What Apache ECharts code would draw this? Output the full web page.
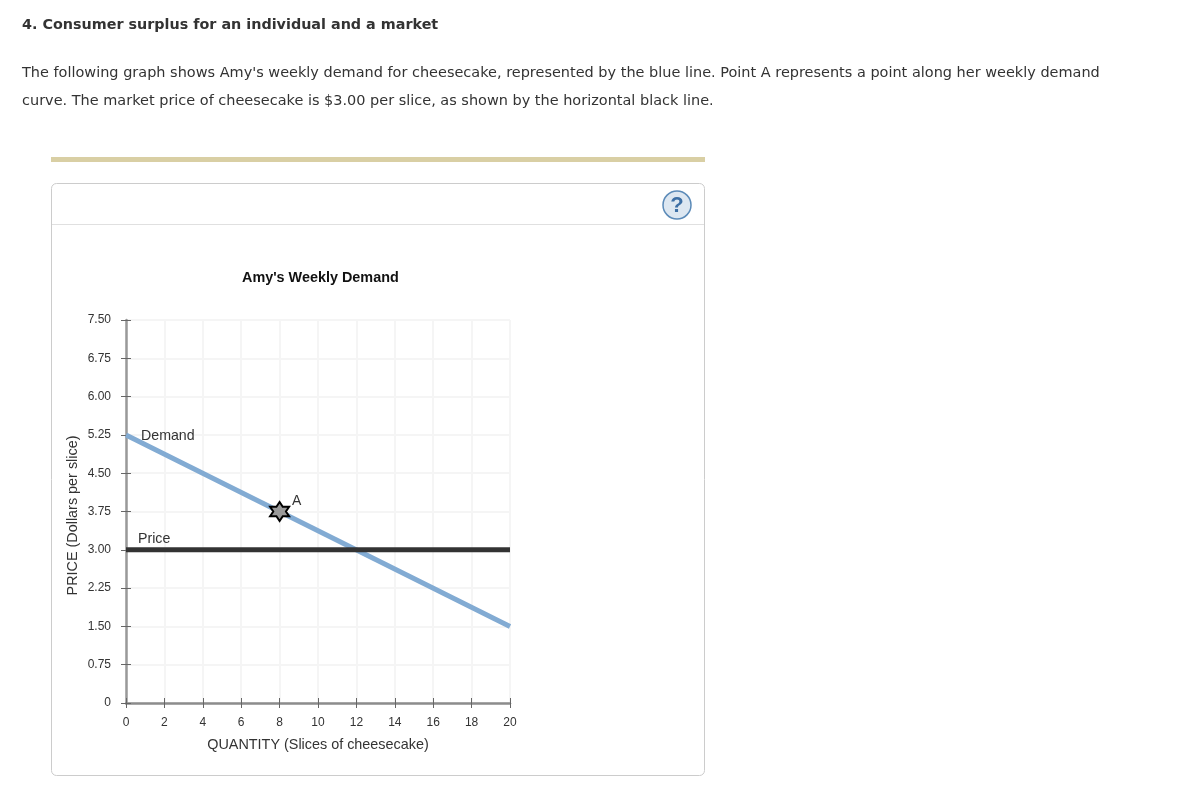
<!DOCTYPE html>
<html>
<head>
<meta charset="utf-8">
<style>html,body{margin:0;padding:0;background:#fff}#chart{width:1200px;height:789px}</style>
<script src="https://cdn.jsdelivr.net/npm/echarts@6/dist/echarts.min.js"></script>
</head>
<body>
<div id="chart"></div>
<script>
// Demand schedule, market price and the marked point on the curve
const demandQuantity = [0, 20];
const demandPrice = [5.25, 1.5];
const marketQuantity = [0, 20];
const marketPrice = [3, 3];
const pointA = [8, 3.75];

const headingText = '4. Consumer surplus for an individual and a market';
const bodyLines = [
  "The following graph shows Amy's weekly demand for cheesecake, represented by the blue line. Point A represents a point along her weekly demand",
  'curve. The market price of cheesecake is $3.00 per slice, as shown by the horizontal black line.'
];

const pageFont = '"DejaVu Sans", sans-serif';
const chartFont = '"Liberation Sans", Arial, sans-serif';
const hexagram = 'path://M0,-100L29,-50L87,-50L58,0L87,50L29,50L0,100L-29,50L-87,50L-58,0L-87,-50L-29,-50Z';

const pairs = (xs, ys) => xs.map((x, i) => [x, ys[i]]);
const priceLabel = v => (v === 0 ? '0' : v.toFixed(2));

const pageText = (x, y, text, font) => ({
  type: 'text', x, y, silent: true,
  style: { text, font, fill: '#333', textVerticalAlign: 'middle' }
});

const chart = echarts.init(document.getElementById('chart'), null, { renderer: 'canvas' });
chart.setOption({
  animation: false,
  backgroundColor: '#fff',
  textStyle: { fontFamily: chartFont },
  title: {
    text: "Amy's Weekly Demand",
    left: 242, top: 271,
    padding: 0,
    textStyle: { fontFamily: chartFont, fontSize: 14.4, fontWeight: 'bold', color: '#111' }
  },
  grid: { left: 126, top: 320, width: 384, height: 383, containLabel: false },
  xAxis: [
    {
      type: 'value', min: 0, max: 20, interval: 2, position: 'bottom', z: 2,
      name: 'QUANTITY (Slices of cheesecake)', nameLocation: 'middle', nameGap: 35,
      nameTextStyle: { fontFamily: chartFont, fontSize: 14.4, color: '#333' },
      axisLine: { show: true, onZero: false, lineStyle: { color: '#8c8c8c', width: 2.5 } },
      axisTick: { show: true, length: 5, lineStyle: { color: '#666', width: 1 } },
      axisLabel: { fontSize: 12, color: '#333', margin: 14, hideOverlap: false, showMinLabel: true, showMaxLabel: true },
      splitLine: { show: true, lineStyle: { color: '#f5f5f5', width: 2 } }
    },
    {
      type: 'value', min: 0, max: 20, interval: 2, position: 'bottom', z: 2,
      axisLine: { show: false },
      axisTick: { show: true, inside: true, length: 5, lineStyle: { color: '#666', width: 1 } },
      axisLabel: { show: false }, splitLine: { show: false }
    }
  ],
  yAxis: [
    {
      type: 'value', min: 0, max: 7.5, interval: 0.75, position: 'left', z: 2,
      name: 'PRICE (Dollars per slice)', nameLocation: 'middle', nameGap: 46,
      nameTextStyle: { fontFamily: chartFont, fontSize: 14.4, color: '#333', padding: [0, 8, 0, 0] },
      axisLine: { show: true, onZero: false, lineStyle: { color: '#999', width: 2.5 } },
      axisTick: { show: true, length: 5, lineStyle: { color: '#666', width: 1 } },
      axisLabel: { fontSize: 12, color: '#333', margin: 15, formatter: priceLabel, showMinLabel: true, showMaxLabel: true },
      splitLine: { show: true, lineStyle: { color: '#f5f5f5', width: 2 } }
    },
    {
      type: 'value', min: 0, max: 7.5, interval: 0.75, position: 'left', z: 2,
      axisLine: { show: false },
      axisTick: { show: true, inside: true, length: 5, lineStyle: { color: '#666', width: 1 } },
      axisLabel: { show: false }, splitLine: { show: false }
    }
  ],
  series: [
    {
      name: 'Demand', type: 'line', symbol: 'none', silent: true,
      data: pairs(demandQuantity, demandPrice),
      lineStyle: { color: '#82abd3', width: 5, cap: 'butt' },
      label: { show: false },
      markPoint: {
        symbol: 'circle', symbolSize: 0, silent: true,
        data: [{ coord: pairs(demandQuantity, demandPrice)[0], label: {
          show: true, position: 'right', distance: 0, offset: [15, 1], formatter: 'Demand',
          fontFamily: chartFont, fontSize: 14.2, color: '#333' } }]
      },
      z: 3
    },
    {
      name: 'Price', type: 'line', symbol: 'none', silent: true,
      data: pairs(marketQuantity, marketPrice),
      lineStyle: { color: '#333', width: 5, cap: 'butt' },
      markPoint: {
        symbol: 'circle', symbolSize: 0, silent: true,
        data: [{ coord: pairs(marketQuantity, marketPrice)[0], label: {
          show: true, position: 'right', distance: 0, offset: [12, -11], formatter: 'Price',
          fontFamily: chartFont, fontSize: 14.2, color: '#333' } }]
      },
      z: 4
    },
    {
      name: 'A', type: 'scatter', silent: true,
      data: [pointA],
      symbol: hexagram, symbolSize: [19, 19], symbolKeepAspect: false,
      itemStyle: { color: '#999', borderColor: '#000', borderWidth: 2, opacity: 1 },
      label: { show: true, position: 'right', distance: 0, offset: [2, -10], formatter: 'A',
        fontFamily: chartFont, fontSize: 14, color: '#333' },
      z: 5
    }
  ],
  graphic: [
    pageText(22, 25, headingText, 'bold 14.35px ' + pageFont),
    pageText(22, 73, bodyLines[0], '14.48px ' + pageFont),
    pageText(22, 101, bodyLines[1], '14.48px ' + pageFont),
    { type: 'rect', silent: true, shape: { x: 51, y: 157, width: 654, height: 5 }, style: { fill: '#d9cfa4' } },
    { type: 'rect', silent: true, z: -1, shape: { x: 51.5, y: 183.5, width: 653, height: 592, r: 5 },
      style: { fill: '#fff', stroke: '#ccc', lineWidth: 1 } },
    { type: 'line', silent: true, shape: { x1: 52, y1: 224.5, x2: 704, y2: 224.5 }, style: { stroke: '#e0e0e0', lineWidth: 1 } },
    { type: 'circle', silent: true, shape: { cx: 677, cy: 205, r: 14 }, style: { fill: '#dde7f1', stroke: '#5b8ab8', lineWidth: 1.5 } },
    { type: 'text', silent: true, x: 677, y: 206, style: { text: '?', font: 'bold 22px ' + chartFont, fill: '#3d6fa5', textAlign: 'center', textVerticalAlign: 'middle' } }
  ]
});
</script>
</body>
</html>
